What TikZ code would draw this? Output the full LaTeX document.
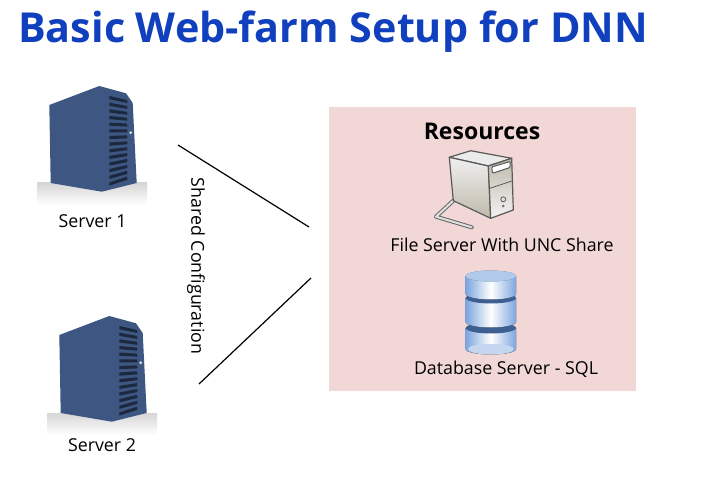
\documentclass[tikz,border=0pt]{standalone}
\usepackage{fontspec}
\setmainfont{Open Sans}
\usetikzlibrary{positioning}
\definecolor{titleblue}{RGB}{17,64,190}
\definecolor{towerblue}{RGB}{62,87,130}
\definecolor{towerdark}{RGB}{28,40,62}
\definecolor{respink}{RGB}{242,215,215}
\definecolor{dbblue}{RGB}{125,165,222}
\definecolor{dbdark}{RGB}{62,95,145}
\definecolor{filetan}{RGB}{190,185,170}
\tikzstyle{title}=[font=\fontsize{41.3}{46}\selectfont\bfseries,text=titleblue,inner sep=0pt]
\tikzstyle{label}=[font=\fontsize{17.8}{20}\selectfont,text=black,inner sep=0pt]
\tikzstyle{head}=[font=\fontsize{23}{26}\selectfont\bfseries,text=black,inner sep=0pt]
\tikzstyle{link}=[draw,line width=1.2pt,-]
\tikzstyle{disc}=[left color=dbblue,right color=dbblue,middle color=white]
\tikzstyle{fileline}=[draw=black!65,line width=1.2pt,line join=round]
\tikzset{
  servertower/.pic={
    % soft shadow under the tower
    \fill[top color=black!16,bottom color=white] (0,98) rectangle (110,120);
    % body
    \fill[towerblue] (12.3,20) -- (62.3,1) -- (89,8.3) -- (95.7,18) -- (99.7,98) -- (64.7,106.7) -- (13.7,98) -- cycle;
    % vent slots
    \foreach \n in {0,...,13}
        \fill[towerdark] (72.3,11+6.65*\n) -- (90,15+5.9*\n) -- (90.5,18+5.9*\n) -- (72.3,14.2+6.65*\n) -- cycle;
    \fill[black!15] (93.7,47.7) circle (1.6);
  }
}
\begin{document}
\begin{tikzpicture}[x=1pt,y=-1pt]
    \useasboundingbox (0,0) rectangle (717,478);
    \fill[white] (0,0) rectangle (717,478);
    \node[title] (title) at (333,32) {Basic Web-farm Setup for DNN};
    % First we draw the two servers
    \foreach \pos/\name in {{(37,85)/1}, {(47,315)/2}}
        \pic at \pos {servertower};
    \node[label] (server1) at (92.5,221) {Server 1};
    \node[label] (server2) at (102,445) {Server 2};
    \node[label,rotate=-90] (shared) at (196,266) {Shared Configuration};
    % Resources box
    \node[fill=respink,minimum width=307pt,minimum height=284pt,inner sep=0pt] (resources) at (482.5,249) {};
    \node[head] (reshead) at (482,131) {Resources};
    % File server
    \draw[line width=4pt,black!60,line join=round,line cap=round] (453.3,200.7) -- (436,216.7) -- (471.7,227.3);
    \draw[line width=2pt,black!12,line join=round,line cap=round] (453.3,200.7) -- (436,216.7) -- (471.7,227.3);
    \draw[fileline,fill=black!8] (449.3,157.3) -- (470.7,150.7) -- (511.7,158.3) -- (488.3,166) -- cycle;
    \draw[fileline,top color=black!6,bottom color=filetan] (449.3,157.3) -- (488.3,166) -- (490.7,218.3) -- (453.3,200.7) -- cycle;
    \draw[fileline,top color=filetan,bottom color=black!5] (488.3,166) -- (511.7,158.3) -- (513.3,210) -- (490.7,218.3) -- cycle;
    \draw[black!65,line width=1pt,fill=white,rounded corners=1pt] (491.7,167) -- (510,161.5) -- (510,167.5) -- (492.5,173.3) -- cycle;
    \draw[black!65,line width=.8pt] (490,188.3) -- (512.7,180.7);
    \draw[black!65,line width=.8pt] (503.3,199.3) circle (2.5);
    \draw[black!65,line width=.6pt] (503.3,206) circle (1);
    \node[label] (fileserver) at (502,245) {File Server With UNC Share};
    % Database
    \foreach \top/\bot in {{328/349}, {298/322}, {276/294}}{
        \fill[disc] (465.7,\top) -- (465.7,\bot) arc[x radius=25.15,y radius=5.5,start angle=180,end angle=0] -- (516,\top) -- cycle;
        \fill[dbdark] (490.85,\top) ellipse (25.15 and 5.5);
    }
    \fill[dbblue!45!white] (490.85,349) ellipse (23 and 5);
    \fill[dbblue!60!white] (490.85,276) ellipse (25.15 and 5.5);
    \node[label] (dbserver) at (506,369) {Database Server - SQL};
    % Connect servers with resources
    \coordinate (a1) at (178,145);
    \coordinate (a2) at (309,227);
    \coordinate (b1) at (199,384);
    \coordinate (b2) at (311,278);
    \foreach \source/ \dest in {a1/a2, b1/b2}
        \path[link] (\source) -- (\dest) ;
\end{tikzpicture}
\end{document}
